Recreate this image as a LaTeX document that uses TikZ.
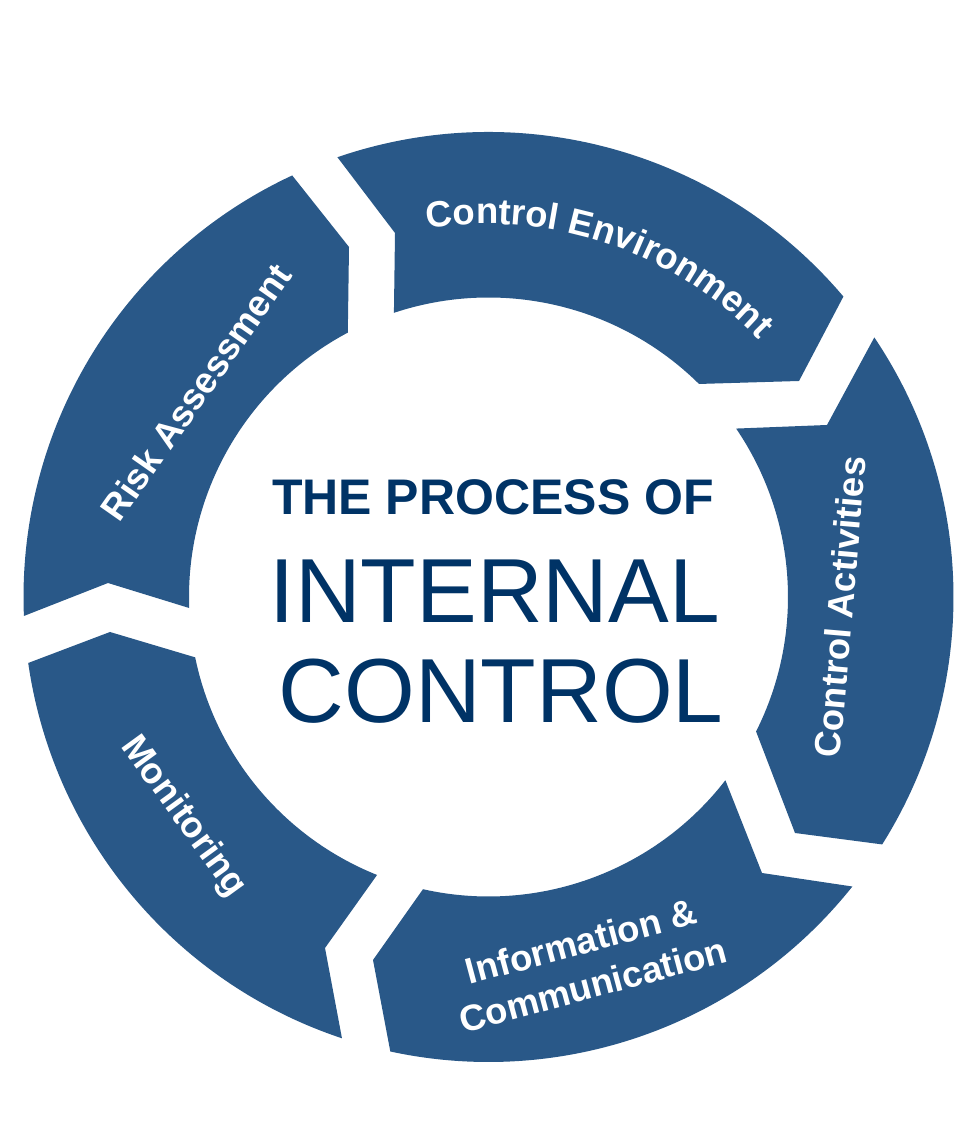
\documentclass[tikz,border=0pt]{standalone}
\usepackage{fontspec}
\setmainfont{Liberation Sans}
\usetikzlibrary{calc,decorations.text}
\definecolor{segblue}{RGB}{41,88,136}
\definecolor{navy}{RGB}{0,51,102}
\newcommand\labfont{\fontsize{36.5}{45}\selectfont\bfseries}
\newcommand\drawseg[6]{%
  \fill[segblue] ($(C)+(#1:465pt)$) arc[start angle=#1, end angle=#2, radius=465pt]
    -- (#5) -- ($(C)+(#3:299.5pt)$) arc[start angle=#3, end angle=#4, radius=299.5pt]
    -- (#6) -- cycle;}
\begin{document}
\begin{tikzpicture}[x=1pt,y=1pt,
  lab/.style={text=white,font=\labfont,inner sep=0pt,align=center},
  ttl/.style={text=navy,inner sep=0pt,anchor=base}]
\fill[white] (0,0) rectangle (972,1123);
\useasboundingbox (0,0) rectangle (972,1123);
\coordinate (C) at (488.5,526);
% tips and notches
\coordinate (raTip) at (349,876);  \coordinate (raNotch) at (108,540);
\coordinate (ceTip) at (799,742);  \coordinate (ceNotch) at (395,890);
\coordinate (caTip) at (795,290);  \coordinate (caNotch) at (827,698);
\coordinate (icTip) at (373,163);  \coordinate (icNotch) at (762,250);
\coordinate (moTip) at (110,491);  \coordinate (moNotch) at (325,175);
% segments
\drawseg{182.34}{114.97}{118.02}{182.11}{raTip}{raNotch}
\drawseg{108.96}{40.25}{45.34}{108.41}{ceTip}{ceNotch}
\drawseg{33.93}{-32.15}{-26.69}{34.22}{caTip}{caNotch}
\drawseg{-38.51}{-102.19}{-102.64}{-37.73}{icTip}{icNotch}
\drawseg{251.63}{188.16}{191.63}{248.15}{moTip}{moNotch}
% labels
\node[lab, rotate=55] (ra) at (196,731) {Risk Assessment};
\node[lab, rotate=85] (ca) at (840,516) {Control Activities};
\node[lab, rotate=-54] (mo) at (183,306) {Monitoring};
\node[lab, rotate=15] (ic) at (587,160) {Information \&\\Communication};
\path[decorate, decoration={text along path, text align=center,
  text={|\color{white}\labfont|Control Environment}}]
  ($(C)+(111.5:373pt)$) arc[start angle=111.5, end angle=31.5, radius=373pt];
% centre title
\node[ttl, font=\fontsize{50}{50}\selectfont\bfseries] (t1) at (493,608) {THE PROCESS OF};
\node[ttl, font=\fontsize{91}{91}\selectfont] (t2) at (495,500) {INTERNAL};
\node[ttl, font=\fontsize{91}{91}\selectfont] (t3) at (501,400) {CONTROL};
\end{tikzpicture}
\end{document}
